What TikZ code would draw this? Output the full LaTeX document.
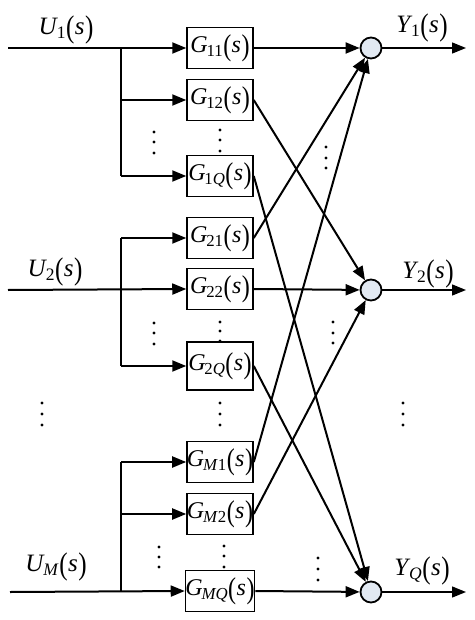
\documentclass[tikz,border=0pt]{standalone}
\usepackage{fontspec}
\usepackage{graphicx}
\setmainfont{Liberation Serif}
\usetikzlibrary{arrows.meta}
\definecolor{sumfill}{HTML}{E2E9F2}
\newcommand{\lpar}{\raisebox{-0.12em}{\scalebox{1}[1.25]{(}}}
\newcommand{\rpar}{\raisebox{-0.12em}{\scalebox{1}[1.25]{)}}}
\newcommand{\tfn}[2]{\textit{#1}\kern-0.05em\textsubscript{#2}\lpar\kern0.02em\textit{s}\kern0.02em\rpar}
\begin{document}
\begin{tikzpicture}[x=1pt,y=-1pt,
  blk/.style={draw, line width=1.5pt, minimum width=66pt, minimum height=41pt, inner sep=0pt, font=\fontsize{24}{26}\selectfont},
  sumnode/.style={circle, draw, line width=1.8pt, fill=sumfill, minimum size=21pt, inner sep=0pt},
  sig/.style={line width=2pt, -{Triangle[length=14pt,width=11pt]}},
  outsig/.style={line width=1.4pt, -{Triangle[length=14pt,width=11pt]}},
  wire/.style={line width=2pt},
  lbl/.style={font=\fontsize{25}{27}\selectfont, inner sep=0pt},
  vdot/.style={fill=black}]
\useasboundingbox (0,0) rectangle (474,620);

% blocks
\node[blk] (G11) at (220,48) {\tfn{G}{11}};
\node[blk] (G12) at (220,100) {\tfn{G}{12}};
\node[blk] (G1Q) at (220,176) {\tfn{G}{1\textit{Q}}};
\node[blk] (G21) at (220,238) {\tfn{G}{21}};
\node[blk] (G22) at (220,289) {\tfn{G}{22}};
\node[blk, minimum height=48pt] (G2Q) at (220,366) {\tfn{G}{2\textit{Q}}};
\node[blk] (GM1) at (220,462) {\tfn{G}{\textit{M}1}};
\node[blk] (GM2) at (220,514) {\tfn{G}{\textit{M}2}};
\node[blk] (GMQ) at (220,591) {\tfn{G}{\textit{MQ}}};

% summing junctions
\node[sumnode] (S1) at (371,48) {};
\node[sumnode] (S2) at (371,290) {};
\node[sumnode] (SQ) at (371,592) {};

% labels
\node[lbl] (LU1) at (66,30) {\tfn{U}{1}};
\node[lbl] (LU2) at (55,272) {\tfn{U}{2}};
\node[lbl] (LUM) at (56,567) {\tfn{U}{\textit{M}}};
\node[lbl] (LY1) at (422,28) {\tfn{Y}{1}};
\node[lbl] (LY2) at (428,274) {\tfn{Y}{2}};
\node[lbl] (LYQ) at (422,571) {\tfn{Y}{\textit{Q}}};

% input wires
\coordinate (in1) at (8,48);
\coordinate (in2) at (8,290);
\coordinate (inM) at (10,592);
\coordinate (b1a) at (121,48);
\coordinate (b1b) at (121,100);
\coordinate (b1c) at (121,176);
\coordinate (b2a) at (121,238);
\coordinate (b2b) at (121,289);
\coordinate (b2c) at (121,366);
\coordinate (bMa) at (121,462);
\coordinate (bMb) at (121,514);
\coordinate (bMc) at (121,591);

\draw[sig] (in1) -- (G11.west);
\draw[wire] (b1a) -- (b1c);
\draw[sig] (b1b) -- (G12.west);
\draw[sig] (b1c) -- (G1Q.west);

\draw[sig] (in2) -- (G22.west);
\draw[wire] (b2a) -- (b2c);
\draw[sig] (b2a) -- (G21.west);
\draw[sig] (b2c) -- (G2Q.west);

\draw[sig] (inM) -- (GMQ.west);
\draw[wire] (bMa) -- (bMc);
\draw[sig] (bMa) -- (GM1.west);
\draw[sig] (bMb) -- (GM2.west);

% straight through
\draw[sig] (G11.east) -- (S1);
\draw[sig] (G22.east) -- (S2);
\draw[sig] (GMQ.east) -- (SQ);

% crossing
\draw[sig] (G12.east) -- (S2);
\draw[sig] (G1Q.east) -- (SQ);
\draw[sig] (G21.east) -- (S1);
\draw[sig] (G2Q.east) -- (SQ);
\draw[sig] (GM1.east) -- (S1);
\draw[sig] (GM2.east) -- (S2);

% outputs
\coordinate (out1) at (466,48);
\coordinate (out2) at (466,290);
\coordinate (outQ) at (466,592);
\draw[outsig] (S1) -- (out1);
\draw[outsig] (S2) -- (out2);
\draw[outsig] (SQ) -- (outQ);

% dots
\foreach \x/\y in {154/132,154/142,154/153, 220/130,220/140,220/151, 326/147,326/158,326/168,
                   154/323,154/333,154/344, 220/322,220/331,220/341, 333/322,333/333,333/343,
                   42/403,42/414,42/425, 220/403,220/414,220/425, 403/403,403/414,403/425,
                   159/547,159/557,159/567, 224/546,224/556,224/567, 318/558,318/569,318/580}
  \fill[vdot] (\x,\y) circle (1.7pt);
\end{tikzpicture}
\end{document}
